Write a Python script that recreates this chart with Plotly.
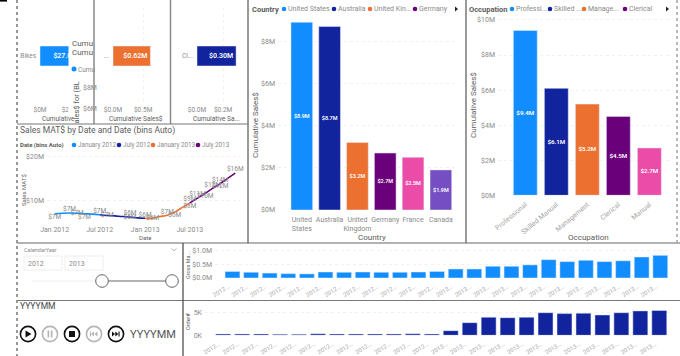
import plotly.graph_objects as go

W, H = 680, 356
FONT = "Roboto"
GREY = "#8a8a8a"
LIGHT = "#a8a8a8"
DARK = "#5c5c5c"
GRID = "#f1f1f1"
BORDER = "#6e6e6e"
PALETTE = ["#118DFF", "#12239E", "#EC7030", "#6B007B", "#EA4CA8", "#744EC2"]

# ---- data ----
category_bikes = ["Bikes"]
sales_bikes = [27.0]
category_group = ["..."]
sales_group = [0.62]
category_cl = ["Cl..."]
sales_cl = [0.30]

countries = ["United States", "Australia", "United Kingdom", "Germany", "France", "Canada"]
country_ticks = ["United<br>States", "Australia", "United<br>Kingdom", "Germany", "France", "Canada"]
country_sales = [8.9, 8.7, 3.2, 2.7, 2.5, 1.9]

occupations = ["Professional", "Skilled Manual", "Management", "Clerical", "Manual"]
occupation_sales = [9.4, 6.1, 5.2, 4.5, 2.7]

mat_months = ["2012-01-01", "2012-02-01", "2012-03-01", "2012-04-01", "2012-05-01", "2012-06-01",
              "2012-07-01", "2012-08-01", "2012-09-01", "2012-10-01", "2012-11-01", "2012-12-01",
              "2013-01-01", "2013-02-01", "2013-03-01", "2013-04-01", "2013-05-01", "2013-06-01",
              "2013-07-01", "2013-08-01", "2013-09-01", "2013-10-01", "2013-11-01", "2013-12-01",
              "2014-01-01"]
mat_sales = [7.0, 7.15, 7.2, 7.15, 7.05, 6.95, 6.8, 6.65, 6.55, 6.4, 6.3, 6.1,
             6.0, 6.05, 6.4, 6.7, 7.4, 8.5, 9.5, 10.6, 11.7, 12.8, 13.9, 15.1, 16.3]
labels_above = ["", "", "$7M", "", "", "", "$7M", "", "", "", "$6M", "",
                "$6M", "", "", "$7M", "", "", "$9M", "$11M", "", "$12M", "$14M", "", "$16M"]
labels_on = ["", "", "", "$7M", "", "", "", "$7M", "", "", "$6M", "",
             "", "$6M", "", "", "", "", "", "", "", "", "", "", ""]
labels_below = ["$7M", "", "", "", "$7M", "", "", "", "", "", "", "",
                "", "", "", "", "$6M", "", "$8M", "", "$10M", "", "$12M", "", ""]
mat_series = ["January 2012", "July 2012", "January 2013", "July 2013"]

yyyymm = ["201201", "201202", "201203", "201204", "201205", "201206", "201207", "201208",
          "201209", "201210", "201211", "201212", "201301", "201302", "201303", "201304",
          "201305", "201306", "201307", "201308", "201309", "201310", "201311", "201312"]
yyyymm_ticks = ["2012..."] * 12 + ["2013..."] * 12
gross_margin = [.24, .21, .18, .16, .15, .22, .21, .22, .21, .21, .22, .24,
                .33, .33, .43, .43, .48, .67, .60, .65, .60, .63, .77, .83]
orders = [.3, .3, .3, .25, .25, .35, .3, .3, .3, .3, .35, .3,
          1.03, 2.8, 4.0, 3.9, 4.0, 5.0, 4.8, 4.9, 4.5, 5.0, 5.4, 5.5]

# ---- helpers ----
fig = go.Figure()
layout = dict(width=W, height=H, autosize=False, margin=dict(l=0, r=0, t=0, b=0, autoexpand=False),
              paper_bgcolor="white", plot_bgcolor="white", showlegend=False,
              font=dict(family=FONT, color=GREY, size=7), bargap=0.2)
shapes, annots = [], []
n_axes = [0]

def X(x): return x / W
def Y(y): return 1 - y / H

def axes(x0, x1, y0, y1, xa, ya):
    n_axes[0] += 1
    n = n_axes[0]
    s = "" if n == 1 else str(n)
    base = dict(tickfont=dict(family=FONT, color=GREY, size=7), ticks="", showline=False, zeroline=False)
    layout["xaxis" + s] = {**base, "domain": [X(x0), X(x1)], "anchor": "y" + s, **xa}
    layout["yaxis" + s] = {**base, "domain": [Y(y1), Y(y0)], "anchor": "x" + s, **ya}
    return "x" + s, "y" + s

def text(x, y, t, size=7, color=GREY, anchor="left", angle=0, bold=False):
    annots.append(dict(x=X(x), y=Y(y), xref="paper", yref="paper", text=f"<b>{t}</b>" if bold else t,
                       showarrow=False, xanchor=anchor, yanchor="middle", textangle=angle,
                       font=dict(family=FONT, size=size, color=color), borderpad=0, borderwidth=0))

def line(x0, y0, x1, y1, color=BORDER, width=1, dash="solid"):
    shapes.append(dict(type="line", xref="paper", yref="paper", x0=X(x0), y0=Y(y0), x1=X(x1), y1=Y(y1),
                       line=dict(color=color, width=width, dash=dash)))

def rect(x0, y0, x1, y1, fill="white", color=None, width=0, layer="above"):
    shapes.append(dict(type="rect", xref="paper", yref="paper", x0=X(x0), y0=Y(y0), x1=X(x1), y1=Y(y1),
                       fillcolor=fill, line=dict(color=color or fill, width=width), layer=layer))

def circle(cx, cy, r, fill="white", color=None, width=0):
    shapes.append(dict(type="circle", xref="paper", yref="paper", x0=X(cx - r), y0=Y(cy - r),
                       x1=X(cx + r), y1=Y(cy + r), fillcolor=fill,
                       line=dict(color=color or fill, width=width)))

def poly(pts, fill):
    d = "M" + " L".join(f"{X(a):.5f},{Y(b):.5f}" for a, b in pts) + " Z"
    shapes.append(dict(type="path", xref="paper", yref="paper", path=d, fillcolor=fill, line=dict(width=0)))

def legend(entries, y, size=7):
    for dot_x, label, color in entries:
        circle(dot_x, y, 2.3, fill=color)
        text(dot_x + 3.6, y, label, size=size, color=GREY)

def hbar(x0, x1, cats, vals, label, color, rng, ticks, tick_text):
    xa, ya = axes(x0, x1, 8, 104,
                  dict(range=rng, tickvals=ticks, ticktext=tick_text, showgrid=True, gridcolor=GRID,
                       griddash="dot", tickfont=dict(family=FONT, color=GREY, size=6.5)),
                  dict(type="category", showgrid=False, tickfont=dict(family=FONT, color=GREY, size=6.5),
                       ticklabelstandoff=3))
    fig.add_trace(go.Bar(x=vals, y=cats, orientation="h", xaxis=xa, yaxis=ya, width=0.208,
                         marker=dict(color=color), text=[label], textposition="inside",
                         insidetextanchor="end", textangle=0, cliponaxis=True,
                         textfont=dict(family=FONT, color="white", size=7, weight=600)))

def vbar(x0, x1, y0, y1, cats, vals, ticks_y, ticks_y_text, yrange, xrange, width, colors,
         labels=None, ticktext=None, tickangle=0, xfont=7, standoff=3, xcolor=GREY, shift=0):
    xa, ya = axes(x0, x1, y0, y1,
                  dict(type="category", categoryorder="array", categoryarray=cats, range=xrange,
                       tickmode="array", tickvals=cats, ticktext=ticktext or cats, tickangle=tickangle,
                       showgrid=False, tickfont=dict(family=FONT, color=xcolor, size=xfont),
                       ticklabelstandoff=standoff, ticklabelshift=shift),
                  dict(range=yrange, tickvals=ticks_y, ticktext=ticks_y_text, showgrid=True, gridcolor=GRID,
                       griddash="dot", ticklabelstandoff=2))
    bar = dict(x=cats, y=vals, xaxis=xa, yaxis=ya, width=width, marker=dict(color=colors))
    if labels:
        bar.update(text=labels, textposition="inside", insidetextanchor="middle", textangle=0,
                   textfont=dict(family=FONT, color="white", size=7, weight=600))
    fig.add_trace(go.Bar(**bar))

# ---- top small horizontal bars ----
hbar(40, 94, category_bikes, sales_bikes, "$27.0M", PALETTE[0], [0, 36], [0, 20], ["$0M", "$20M"])
hbar(113, 160, category_group, sales_group, "$0.62M", PALETTE[2], [0, 0.78], [0, 0.5], ["$0.0M", "$0.5M"])
hbar(197, 240, category_cl, sales_cl, "$0.30M", PALETTE[1], [0, 0.33], [0, 0.2], ["$0.0M", "$0.2M"])
text(42, 119, "Cumulative", size=6.5, color=DARK)
text(136, 119, "Cumulative Sales$", size=6.5, color=DARK, anchor="center")
text(216, 119, "Cumulative Sa...", size=6.5, color=DARK, anchor="center")

# overlapping visual that hides the right part of the first small chart
rect(68.5, 2, 94, 123.5)
text(71.5, 44, "Cumu", size=8, color=DARK)
text(71.5, 53, "Cumu", size=8, color=DARK)
circle(74, 69, 2.5, fill=PALETTE[0])
text(78, 69.5, "Cumu", size=6.5)
text(83, 88, "$8M", size=7)
text(83, 109, "$6M", size=7)
text(75.5, 103, "ales$ for (BL", size=7.5, color=DARK, angle=-90, anchor="center")

# ---- MAT line ----
xa, ya = axes(47, 240, 152, 222,
              dict(type="date", range=["2011-12-01", "2014-01-20"],
                   tickmode="array", tickvals=["2012-01-01", "2012-07-01", "2013-01-01", "2013-07-01"],
                   ticktext=["Jan 2012", "Jul 2012", "Jan 2013", "Jul 2013"], showgrid=False,
                   ticklabelstandoff=2),
              dict(range=[5.16, 21.1], tickvals=[10, 20], ticktext=["$10M", "$20M"], showgrid=True,
                   gridcolor=GRID, griddash="dot", ticklabelstandoff=2))
spans = [(0, 7), (6, 13), (12, 19), (18, 25)]
for (a, b), color, name in zip(spans, [PALETTE[0], PALETTE[1], PALETTE[2], PALETTE[3]], mat_series):
    fig.add_trace(go.Scatter(x=mat_months[a:b], y=mat_sales[a:b], mode="lines", name=name, xaxis=xa, yaxis=ya,
                             line=dict(color=color, width=1.6, shape="spline"), cliponaxis=False))
for labels, pos in [(labels_above, "top center"), (labels_on, "middle center"), (labels_below, "bottom center")]:
    fig.add_trace(go.Scatter(x=mat_months, y=mat_sales, mode="text", text=labels, textposition=pos,
                             xaxis=xa, yaxis=ya, cliponaxis=False,
                             textfont=dict(family=FONT, size=6.5, color=GREY)))
text(20, 131, "Sales MAT$ by Date and Date (bins Auto)", size=8.5, color=DARK)
text(20, 145, "Date (bins Auto)", size=6, color=DARK, bold=True)
legend([(74, mat_series[0], PALETTE[0]), (119, mat_series[1], PALETTE[1]),
        (153, mat_series[2], PALETTE[2]), (198, mat_series[3], PALETTE[3])], 145, size=6.3)
text(145, 237.5, "Date", size=6, color=DARK, anchor="center")
text(23, 190, "Sales MAT$", size=6, color=DARK, anchor="center", angle=-90)

# ---- country ----
vbar(278, 457, 13.8, 210, countries, country_sales, [0, 2, 4, 6, 8], ["$0M", "$2M", "$4M", "$6M", "$8M"],
     [0, 9.3], [-0.856, 5.58], 0.78, PALETTE, labels=[f"${v}M" for v in country_sales],
     ticktext=country_ticks, standoff=4)
text(252, 9, "Country", size=7.5, color=DARK, bold=True)
legend([(284, "United States", PALETTE[0]), (334, "Australia", PALETTE[1]),
        (370, "United Kin...", PALETTE[2]), (415, "Germany", PALETTE[3])], 9)
poly([(455, 6.5), (458, 9), (455, 11.5)], "#222222")
text(372, 237, "Country", size=8, color=DARK, anchor="center")
text(255, 125, "Cumulative Sales$", size=8, color=DARK, anchor="center", angle=-90)

# ---- occupation ----
vbar(498, 672, 14, 195.3, occupations, occupation_sales, [0, 2, 4, 6, 8, 10],
     ["$0M", "$2M", "$4M", "$6M", "$8M", "$10M"], [0, 10.34], [-0.88, 4.73], 0.77, PALETTE[:5],
     labels=[f"${v}M" for v in occupation_sales], tickangle=-40, standoff=3, xcolor=LIGHT)
text(469, 9, "Occupation", size=7.5, color=DARK, bold=True)
legend([(512, "Professi...", PALETTE[0]), (550, "Skilled ...", PALETTE[1]),
        (584, "Manage...", PALETTE[2]), (625, "Clerical", PALETTE[3])], 9)
poly([(666, 6.5), (669, 9), (666, 11.5)], "#222222")
text(588, 237, "Occupation", size=8, color=DARK, anchor="center")
text(473, 105, "Cumulative Sales$", size=8, color=DARK, anchor="center", angle=-90)

# ---- bottom bars ----
vbar(215, 672, 247, 278, yyyymm, gross_margin, [0, 0.5, 1.0], ["$0.0M", "$0.5M", "$1.0M"], [0, 1.135],
     [-0.94, 23.63], 0.8, PALETTE[0], ticktext=yyyymm_ticks, tickangle=-32, xfont=6, standoff=3,
     xcolor=LIGHT, shift=-4)
text(188, 265, "Gross Ma...", size=5.5, color=DARK, anchor="center", angle=-90)
vbar(205, 672, 305, 335.3, yyyymm, orders, [0, 5], ["0K", "5K"], [0, 6.7],
     [-0.96, 23.67], 0.79, PALETTE[1], ticktext=yyyymm_ticks, tickangle=-32, xfont=6, standoff=3,
     xcolor=LIGHT, shift=-4)
text(188, 322, "Order#", size=5.5, color=DARK, anchor="center", angle=-90)

# ---- slicer ----
text(24, 250, "CalendarYear", size=5.5)
poly([(171.5, 248), (174, 250.5), (176.5, 248), (176.5, 248.7), (174, 251.3), (171.5, 248.7)], "#999999")
rect(24, 256, 62, 270, fill="white", color="#eeeeee", width=1)
rect(65, 256, 103, 270, fill="white", color="#eeeeee", width=1)
text(28, 263.5, "2012", size=7)
text(69, 263.5, "2013", size=7)
line(32, 281, 96, 281, color="#eeeeee", width=1)
line(102, 281, 172, 281, color="#666666", width=1)
circle(102, 281, 6.3, fill="white", color="#666666", width=1)
circle(172, 281, 6.3, fill="white", color="#666666", width=1)

# ---- play axis ----
text(20, 306, "YYYYMM", size=8.5, color="#444444")
BK, LG = "#111111", "#b5b5b5"
cy = 334
for cx, col in [(28, BK), (50, LG), (72, BK), (94, LG), (116, BK)]:
    circle(cx, cy, 7.6, fill="white", color=col, width=1.6)
poly([(25.5, cy - 3.5), (25.5, cy + 3.5), (31.5, cy)], BK)
rect(47.5, cy - 3.5, 49.2, cy + 3.5, fill=LG)
rect(50.8, cy - 3.5, 52.5, cy + 3.5, fill=LG)
rect(69, cy - 3, 75, cy + 3, fill=BK)
rect(90, cy - 2.5, 91, cy + 2.5, fill=LG)
poly([(94, cy - 2.5), (94, cy + 2.5), (91.2, cy)], LG)
poly([(97.5, cy - 2.5), (97.5, cy + 2.5), (94.5, cy)], LG)
poly([(112, cy - 2.5), (112, cy + 2.5), (115, cy)], BK)
poly([(115.3, cy - 2.5), (115.3, cy + 2.5), (118.3, cy)], BK)
rect(118.5, cy - 2.5, 119.6, cy + 2.5, fill=BK)
text(130, cy, "YYYYMM", size=11, color="#555555")

# ---- panel borders ----
rect(0, 0, 7, 1.6, fill="#000000")
line(17, 0, 17, 356, color="#555555", width=1.2, dash="dot")
line(677, 0, 677, 242, color="#8a8a8a", width=1.2, dash="dot")
line(94, 0, 94, 124, color="#8a8a8a", width=1.5)
line(170.5, 0, 170.5, 124, color="#8a8a8a", width=1.5)
line(248, 0, 248, 243, color="#555555", width=1.2)
line(466, 0, 466, 243, color="#555555", width=1.2)
line(17, 124, 248, 124, color="#777777", width=1.2)
line(17, 243, 680, 243, color="#666666", width=1.2)
line(17, 300.5, 680, 300.5, color="#777777", width=1.2)
line(183, 243, 183, 356, color="#444444", width=1.2)

layout["shapes"] = shapes
layout["annotations"] = annots
fig.update_layout(**layout)
fig.write_html("out.html", config={"displayModeBar": False},
               post_script="document.body.style.margin='0';document.body.style.overflow='hidden';")
